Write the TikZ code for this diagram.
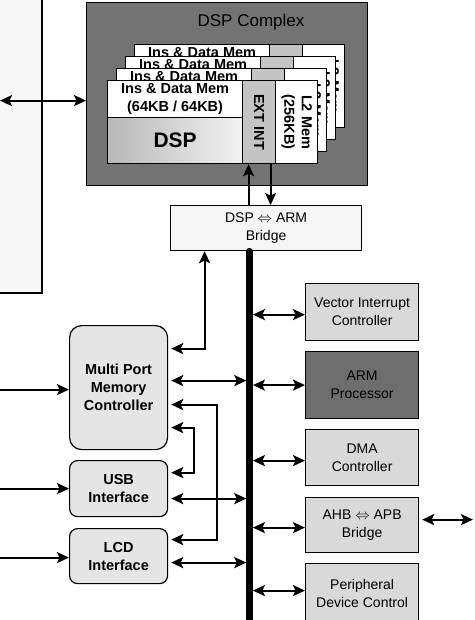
\documentclass[tikz,border=0pt]{standalone}
\usepackage{fontspec}
\setmainfont{Liberation Sans}
\usetikzlibrary{arrows.meta, positioning}

\tikzset{
  box/.style={draw, line width=1.2pt, inner sep=0pt, align=center, anchor=north west},
  cell/.style={box, fill=white, font=\bfseries\fontsize{14.5}{17.5}\selectfont},
  lbox/.style={box, fill=black!10, rounded corners=8pt, minimum width=98pt, font=\bfseries\fontsize{14.5}{18}\selectfont},
  rbox/.style={box, fill=black!15, minimum width=113pt, font=\fontsize{14}{18}\selectfont},
  link/.style={line width=2pt, >={Stealth[length=12pt,width=11pt,inset=2.5pt]}},
  gap/.style={shorten <=3pt},
}

\begin{document}
\begin{tikzpicture}[x=1pt, y=-1pt]
	\useasboundingbox (0,0) rectangle (474,620);
	% host side, cut off at the left
	\fill[black!3] (0,0) rectangle (42,293);
	\draw[line width=1.2pt] (42,0) -- (42,293) -- (0,293);
	\coordinate (edge) at (0,0);
	\coordinate (apb) at (473,0);

	% DSP complex with its stack of cores
	\node[box, fill=black!55, minimum width=281pt, minimum height=183pt] (cplx) at (86,2) {};
	\node[font=\fontsize{17}{20}\selectfont] (cplxname) at (251,22) {DSP Complex};
	\foreach \i in {3,2,1,0} {
		\begin{scope}[shift={(9*\i,-12*\i)}]
			\node[cell, minimum width=135pt, minimum height=37pt] (mem\i) at (107,80) {Ins \& Data Mem\\(64KB / 64KB)};
			\node[cell, left color=black!28, right color=black!5, minimum width=135pt, minimum height=46pt, font=\bfseries\fontsize{21}{24}\selectfont] (dsp\i) at (107,117) {DSP};
			\node[cell, fill=black!23, minimum width=33pt, minimum height=83pt] (ext\i) at (242,80) {\rotatebox{-90}{EXT INT}};
			\node[cell, minimum width=42pt, minimum height=83pt] (ltwo\i) at (275,80) {\rotatebox{-90}{\begin{tabular}{@{}c@{}}L2 Mem\\(256KB)\end{tabular}}};
		\end{scope}
	}

	% bridge and bus
	\node[box, fill=black!4, minimum width=191pt, minimum height=45pt, font=\fontsize{14}{18.5}\selectfont] (bridge) at (170,205) {DSP $\Leftrightarrow$ ARM\\Bridge};
	\draw[link, ->] ([xshift=-10.5pt]ext0.south |- bridge.north) -- ([xshift=-10.5pt]ext0.south);
	\draw[link, ->] ([xshift=11.5pt]ext0.south) -- ([xshift=11.5pt]ext0.south |- bridge.north);
	\coordinate (busx) at ([xshift=-16.5pt]bridge.south);
	\coordinate (busw) at ([xshift=-3.3pt]busx);
	\coordinate (buse) at ([xshift=3.3pt]busx);
	\draw[line width=6.5pt, line cap=round] (busx) -- ++(0,380);

	% peripherals on the bus
	\node[rbox, minimum height=57pt] (vic) at (305,283) {Vector Interrupt\\Controller};
	\node[rbox, fill=black!57, minimum height=67pt] (arm) at (305,351) {ARM\\Processor};
	\node[rbox, minimum height=56pt] (dma) at (305,429) {DMA\\Controller};
	\node[rbox, minimum height=55pt] (ahb) at (305,497) {AHB $\Leftrightarrow$ APB\\Bridge};
	\node[rbox, minimum height=60pt] (pdc) at (305,563) {Peripheral\\Device Control};
	\draw[link, <->] ([yshift=-2.5pt]vic.west -| buse) -- ([yshift=-2.5pt]vic.west);
	\draw[link, <->] (arm.west -| buse) -- (arm.west);
	\draw[link, <->] ([yshift=-3pt]dma.west -| buse) -- ([yshift=-3pt]dma.west);
	\draw[link, <->] ([yshift=-2.5pt]ahb.west -| buse) -- ([yshift=-2.5pt]ahb.west);
	\draw[link, <->] ([yshift=3pt]pdc.west -| buse) -- ([yshift=3pt]pdc.west);
	\draw[link, <->, gap] ([yshift=5.5pt]ahb.east) -- ([yshift=5.5pt]ahb.east -| apb);

	% memory controller and interfaces
	\node[lbox, rounded corners=12pt, minimum height=124pt] (mpmc) at (69,325) {Multi Port\\Memory\\Controller};
	\node[lbox, minimum height=56pt] (usb) at (69,460) {USB\\Interface};
	\node[lbox, minimum height=55pt] (lcd) at (69,528) {LCD\\Interface};
	\draw[link, <->] ([yshift=-6.5pt]cplx.west -| edge) -- ([yshift=-6.5pt]cplx.west);
	\draw[link, ->] ([yshift=-2pt]mpmc.west -| edge) -- ([yshift=-2pt]mpmc.west);
	\draw[link, ->] (usb.west -| edge) -- (usb.west);
	\draw[link, ->] ([yshift=-1.5pt]lcd.west -| edge) -- ([yshift=-1.5pt]lcd.west);
	\draw[link, <->, gap] ([yshift=39pt]mpmc.east) -| ([xshift=-61.5pt]bridge.south);
	\draw[link, <->, gap] ([yshift=7pt]mpmc.east) -- ([yshift=7pt]mpmc.east -| busw);
	\draw[link, <->, gap, shorten >=3pt] ([yshift=-17pt]mpmc.east) -- ++(49,0) |- ([yshift=16.5pt]lcd.east);
	\draw[link, <->, gap, shorten >=3pt] ([yshift=-40pt]mpmc.east) -- ++(26,0) |- ([yshift=16pt]usb.east);
	\draw[link, <->, gap] ([yshift=-10pt]usb.east) -- ([yshift=-10pt]usb.east -| busw);
	\draw[link, <->, gap] ([yshift=-6.5pt]lcd.east) -- ([yshift=-6.5pt]lcd.east -| busw);
\end{tikzpicture}
\end{document}
